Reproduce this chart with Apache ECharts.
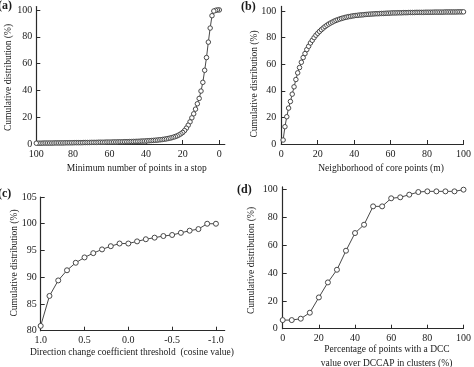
<!DOCTYPE html>
<html><head><meta charset="utf-8">
<script src="https://cdn.jsdelivr.net/npm/echarts@6/dist/echarts.min.js"></script>
<style>html,body{margin:0;padding:0;background:#fff}#c{width:474px;height:367px}</style>
</head><body><div id="c"></div>
<script>
// Panel (a): minimum number of points in a stop
const aX = [0,1,2,3,4,5,6,7,8,9,10,11,12,13,14,15,16,17,18,19,20,21,22,23,24,25,26,27,28,29,30,31,32,33,34,35,36,37,38,39,40,41,42,43,44,45,46,47,48,49,50,51,52,53,54,55,56,57,58,59,60,61,62,63,64,65,66,67,68,69,70,71,72,73,74,75,76,77,78,79,80,81,82,83,84,85,86,87,88,89,90,91,92,93,94,95,96,97,98,99,100];
const aY = [100,100,99.7,99.2,95.7,86.5,76,64.5,55,46,39.5,34,30,26,22.5,19.5,16.5,14,11.8,10,8.6,7.6,6.8,6.1,5.6,5.1,4.7,4.4,4.1,3.8,3.6,3.4,3.2,3.1,2.9,2.8,2.7,2.6,2.5,2.4,2.3,2.2,2.2,2.1,2.0,2.0,1.9,1.9,1.8,1.8,1.7,1.7,1.7,1.6,1.6,1.6,1.5,1.5,1.5,1.4,1.4,1.4,1.4,1.3,1.3,1.3,1.3,1.2,1.2,1.2,1.2,1.1,1.1,1.1,1.1,1.0,1.0,1.0,1.0,1.0,0.9,0.9,0.9,0.9,0.9,0.8,0.8,0.8,0.8,0.8,0.8,0.7,0.7,0.7,0.7,0.7,0.7,0.6,0.6,0.6,0.6];
// Panel (b): neighborhood of core points (m)
const bX = [1,2,3,4,5,6,7,8,9,10,11,12,13,14,15,16,17,18,19,20,21,22,23,24,25,26,27,28,29,30,31,32,33,34,35,36,37,38,39,40,41,42,43,44,45,46,47,48,49,50,51,52,53,54,55,56,57,58,59,60,61,62,63,64,65,66,67,68,69,70,71,72,73,74,75,76,77,78,79,80,81,82,83,84,85,86,87,88,89,90,91,92,93,94,95,96,97,98,99,100];
const bY = [3,13,20.5,27,32,37.5,43,48.5,53.5,57.5,61.5,65,68,71,73.5,76,78,80,81.8,83.3,84.7,86,87.2,88.3,89.3,90.2,91,91.7,92.4,93,93.5,94,94.4,94.8,95.2,95.5,95.8,96,96.3,96.5,96.7,96.8,97,97.1,97.2,97.4,97.5,97.6,97.7,97.8,97.9,98,98,98.1,98.2,98.2,98.3,98.4,98.4,98.5,98.6,98.6,98.6,98.7,98.7,98.7,98.8,98.8,98.8,98.9,98.9,98.9,98.9,99,99,99,99,99,99.1,99.1,99.1,99.1,99.1,99.2,99.2,99.2,99.2,99.2,99.2,99.3,99.3,99.3,99.3,99.3,99.3,99.3,99.4,99.4,99.4,99.4];
// Panel (c): direction change coefficient threshold
const cX = [1.0,0.9,0.8,0.7,0.6,0.5,0.4,0.3,0.2,0.1,0.0,-0.1,-0.2,-0.3,-0.4,-0.5,-0.6,-0.7,-0.8,-0.9,-1.0];
const cY = [80.9,86.5,89.4,91.3,92.7,93.7,94.5,95.2,95.8,96.3,96.3,96.7,97.1,97.4,97.7,97.9,98.3,98.7,99.0,100,100];
// Panel (d): percentage of points with DCC over DCCAP
const dX = [0,5,10,15,20,25,30,35,40,45,50,55,60,65,70,75,80,85,90,95,100];
const dY = [6.2,6.2,7.2,11.5,22.5,33.3,42.4,56.1,68.8,74.8,88,88,93.8,94.5,96.4,98.3,98.8,98.8,98.8,98.8,100];
// tick labels
const ticksA = [0,20,40,60,80,100];
const ticksB = [0,20,40,60,80,100];
const ticksCx = [1.0,0.5,0.0,-0.5,-1.0];
const ticksD = [0,20,40,60,80,100];

const FONT = 'Liberation Serif';
const AX = '#2a2a2a';
const TXT = '#1a1a1a';
function axisBase(extra){
  return Object.assign({
    type:'value',
    axisLine:{show:true,onZero:false,lineStyle:{color:AX,width:1.2}},
    axisTick:{show:true,inside:true,length:4,lineStyle:{color:AX,width:1}},
    axisLabel:{fontFamily:FONT,fontSize:10,color:TXT,margin:5},
    splitLine:{show:false}
  }, extra);
}
function withCustom(ax, vals, fmt){
  ax.axisTick.customValues = vals;
  ax.axisLabel.customValues = vals;
  if (fmt) ax.axisLabel.formatter = fmt;
  return ax;
}
function pairs(xs, ys){ return xs.map((x,i)=>[x, ys[i]]); }
function ser(i, xs, ys, size){
  return {type:'line', xAxisIndex:i, yAxisIndex:i, data:pairs(xs,ys),
    symbol:'circle', symbolSize:size, showAllSymbol:true, showSymbol:true,
    itemStyle:{color:'#fff', borderColor:'#484848', borderWidth:1},
    lineStyle:{color:'#484848', width:1}, emphasis:{disabled:true}, z:3};
}
function txt(x,y,s,opt){
  return Object.assign({type:'text', x:x, y:y, style:Object.assign({text:s, fontFamily:FONT, fontSize:9.5, fill:TXT, align:'center', verticalAlign:'middle'}, opt||{})});
}

const chart = echarts.init(document.getElementById('c'), null, {renderer:'canvas'});
const xa = withCustom(axisBase({gridIndex:0, min:-3, max:100, inverse:true}), ticksA);
const ya = withCustom(axisBase({gridIndex:0, min:0, max:102.5}), ticksA);
ya.axisLabel.margin = 4;
const xb = withCustom(axisBase({gridIndex:1, min:0, max:100}), ticksB);
const yb = withCustom(axisBase({gridIndex:1, min:0, max:103.5}), ticksB);
const xc = withCustom(axisBase({gridIndex:2, min:-1.1, max:1.0, inverse:true}), ticksCx, v=>Number(v).toFixed(1));
const yc = axisBase({gridIndex:2, min:80, max:105, interval:5});
yc.axisLabel.margin = 4;
const xd = withCustom(axisBase({gridIndex:3, min:0, max:100}), ticksD);
const yd = withCustom(axisBase({gridIndex:3, min:0, max:102}), ticksD);

const option = {
  animation:false,
  backgroundColor:'#fff',
  grid:[
    {left:36.3, top:6.6, width:188.5, height:137.4},
    {left:281.3, top:6.4, width:183.4, height:137.6},
    {left:40.7, top:197, width:184, height:133.7},
    {left:282.7, top:186.9, width:182.6, height:141.8}
  ],
  xAxis:[xa,xb,xc,xd],
  yAxis:[ya,yb,yc,yd],
  series:[ser(0,aX,aY,4.5), ser(1,bX,bY,4.5), ser(2,cX,cY,5), ser(3,dX,dY,5)],
  graphic:[
    txt(-2,6,'(a)',{fontWeight:'bold',fontSize:12,align:'left'}),
    txt(241,7,'(b)',{fontWeight:'bold',fontSize:12,align:'left'}),
    txt(-2,194,'(c)',{fontWeight:'bold',fontSize:12,align:'left'}),
    txt(237,190,'(d)',{fontWeight:'bold',fontSize:12,align:'left'}),
    Object.assign(txt(8,77.5,'Cumulative distribution (%)'),{rotation:Math.PI/2}),
    Object.assign(txt(254,84,'Cumulative distribution (%)'),{rotation:Math.PI/2}),
    Object.assign(txt(14,263,'Cumulative distribution (%)'),{rotation:Math.PI/2}),
    Object.assign(txt(251,260.5,'Cumulative distribution (%)'),{rotation:Math.PI/2}),
    txt(136.7,168,'Minimum number of points in a stop'),
    txt(381,168,'Neighborhood of core points (m)'),
    txt(132,352,'Direction change coefficient threshold  (cosine value)'),
    txt(387,349,'Percentage of points with a DCC'),
    txt(386.5,363,'value over DCCAP in clusters (%)')
  ]
};
chart.setOption(option);
</script></body></html>
